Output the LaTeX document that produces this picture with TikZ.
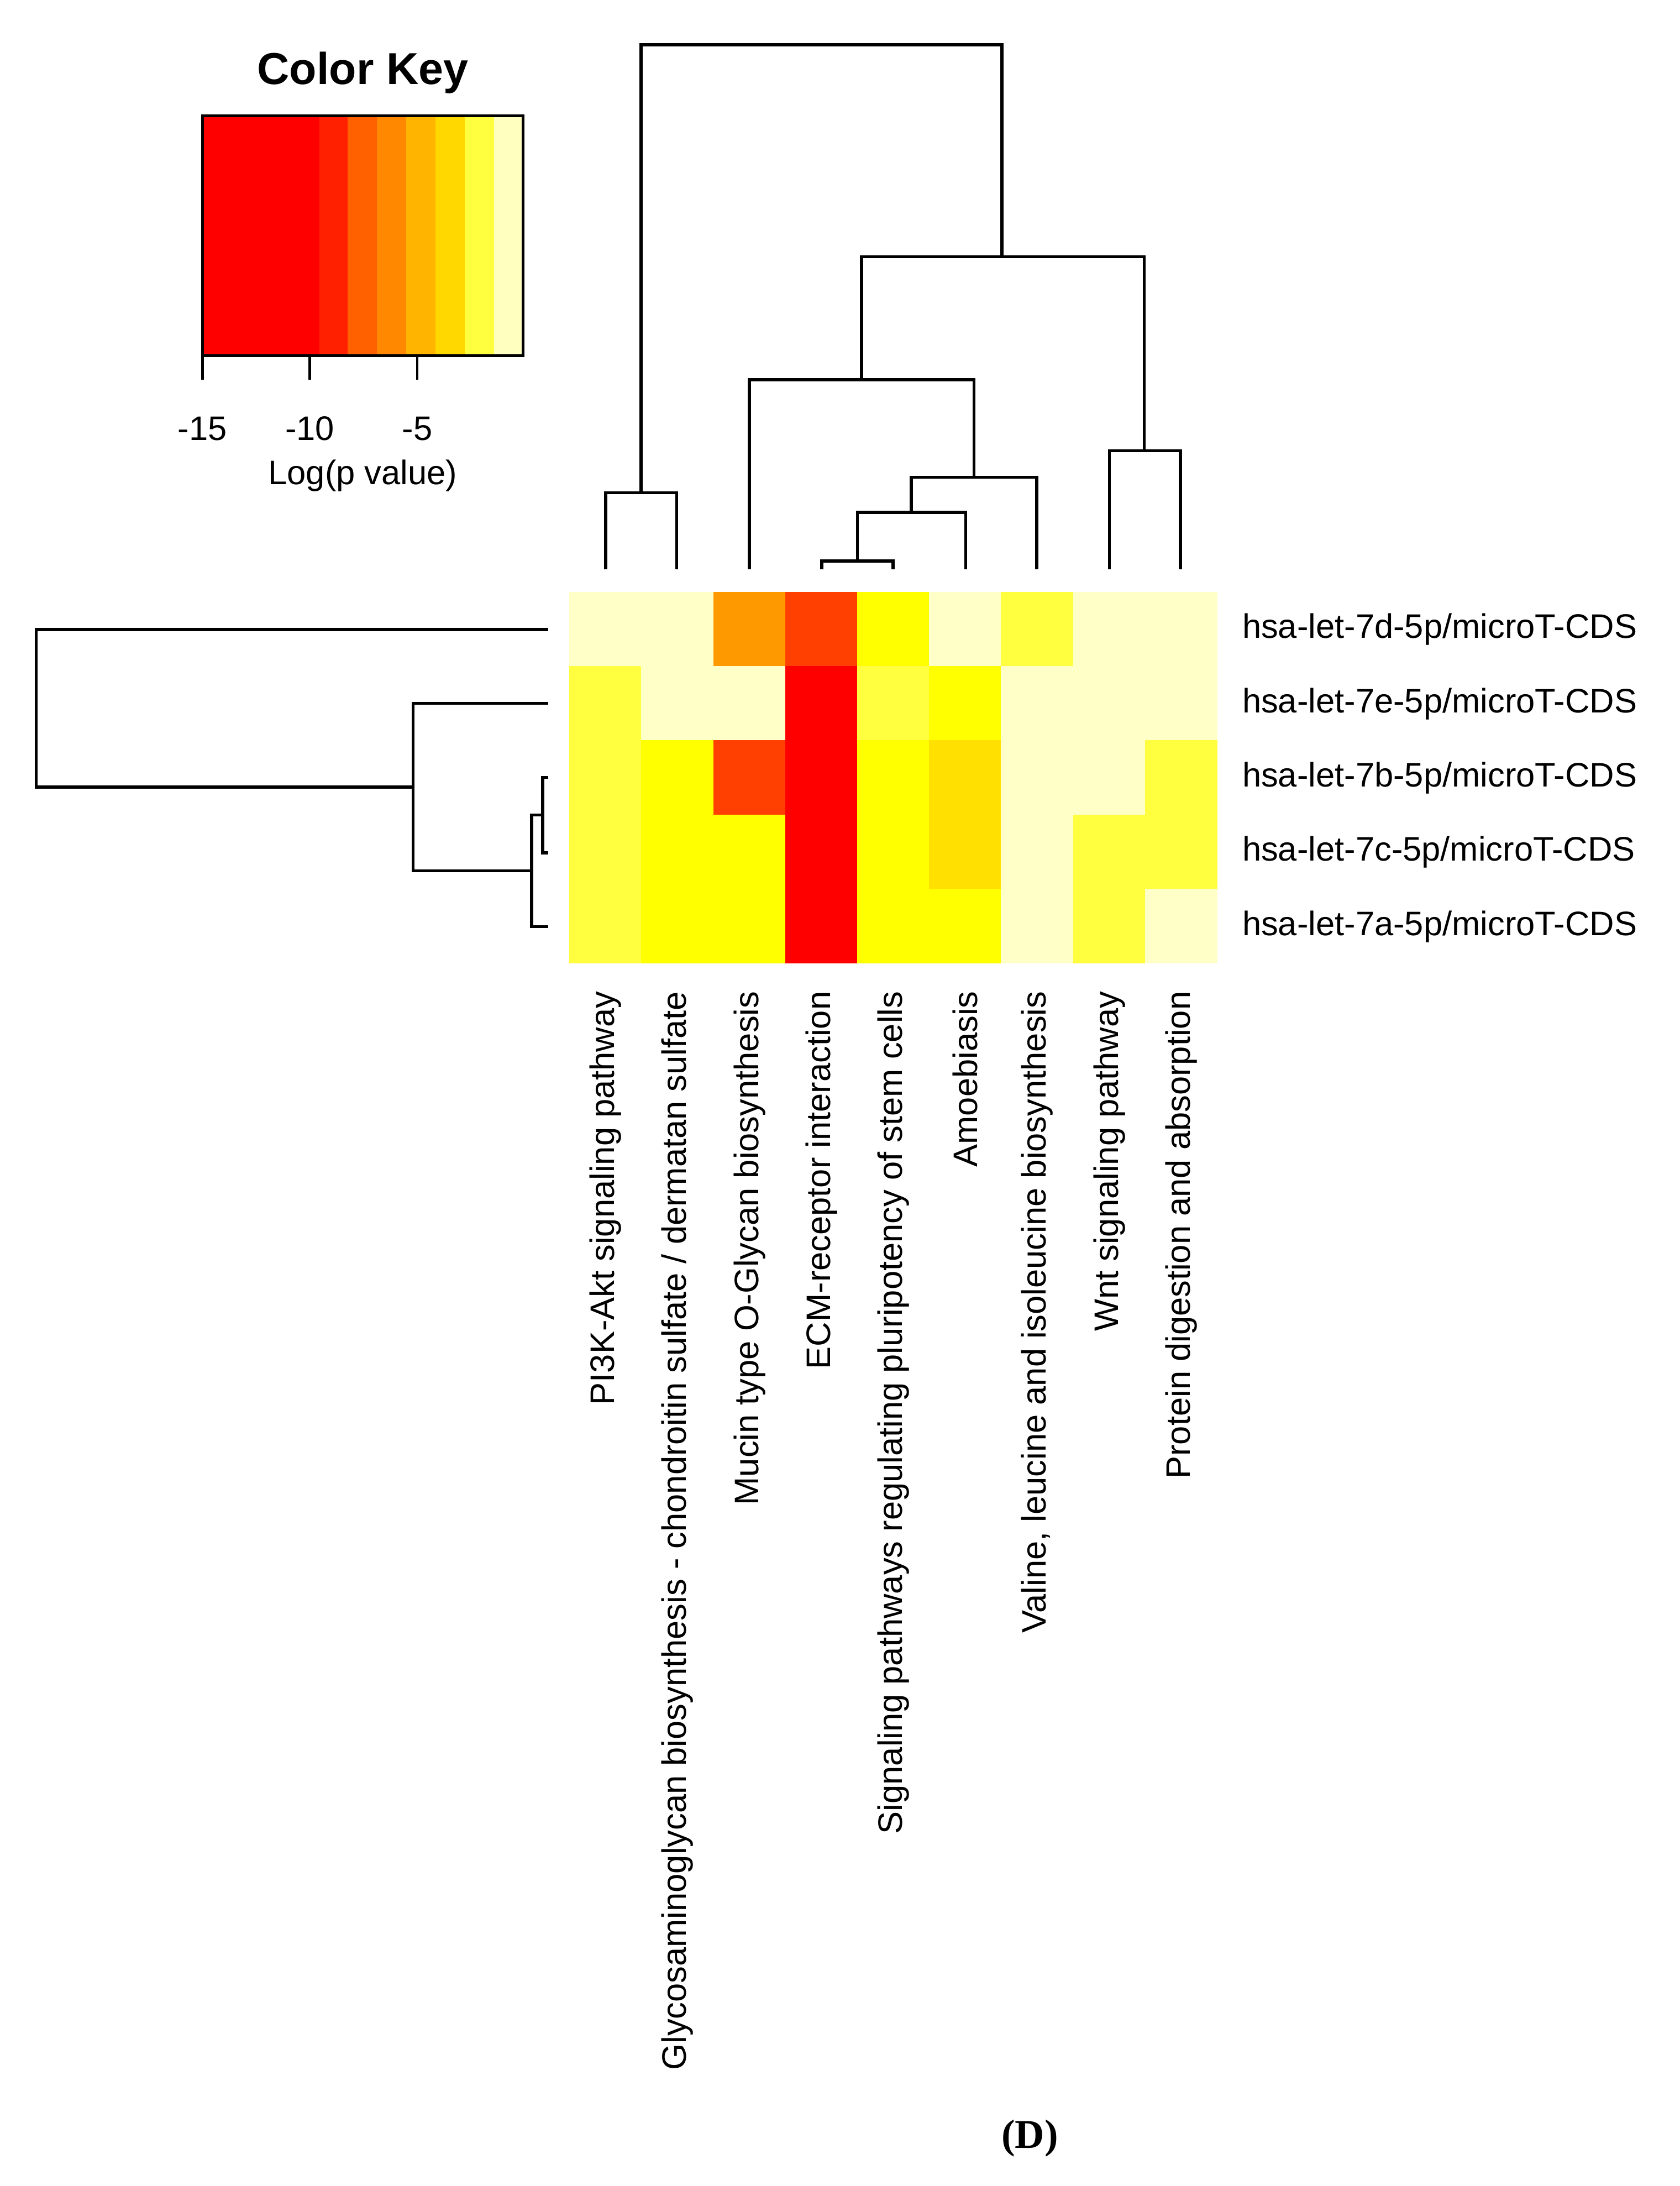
\documentclass[tikz,border=0pt]{standalone}
\usepackage{fontspec}
\setmainfont{Liberation Sans}
\newfontfamily\serifD{Liberation Serif}
\definecolor{LY}{HTML}{FFFFC8}
\definecolor{Y1}{HTML}{FFFF40}
\definecolor{Y0}{HTML}{FFFF00}
\definecolor{G0}{HTML}{FFE000}
\definecolor{O1}{HTML}{FF9900}
\definecolor{R1}{HTML}{FF4000}
\definecolor{R0}{HTML}{FF0000}
\definecolor{K1}{HTML}{FF2000}
\definecolor{K2}{HTML}{FF6000}
\definecolor{K3}{HTML}{FF8800}
\definecolor{K4}{HTML}{FFB400}
\definecolor{K5}{HTML}{FFD800}
\definecolor{K6}{HTML}{FFFF40}
\definecolor{K7}{HTML}{FFFFC0}
\tikzset{lbl/.style={font=\fontsize{17.5}{19}\selectfont,inner sep=0pt},
 den/.style={line width=1.6pt}}
\begin{document}
\begin{tikzpicture}[x=0.02525cm,y=-0.02525cm]
\useasboundingbox (0,0) rectangle (1203.6,1566.3);
% heatmap
\def\cw{51.56}\def\rh{53.2}
\foreach \r/\row in {0/{LY,LY,O1,R1,Y0,LY,Y1,LY,LY},1/{Y1,LY,LY,R0,Y1,Y0,LY,LY,LY},2/{Y1,Y0,R1,R0,Y0,G0,LY,LY,Y1},3/{Y1,Y0,Y0,R0,Y0,G0,LY,Y1,Y1},4/{Y1,Y0,Y0,R0,Y0,Y0,LY,Y1,LY}}{
 \foreach \c [count=\i from 0] in \row {
  \fill[\c] (408+\i*\cw,424+\r*\rh) rectangle (408+\i*\cw+\cw+0.3,424+\r*\rh+\rh+0.3);
 }}
% row labels
\foreach \t [count=\i from 0] in {hsa-let-7d-5p/microT-CDS,hsa-let-7e-5p/microT-CDS,hsa-let-7b-5p/microT-CDS,hsa-let-7c-5p/microT-CDS,hsa-let-7a-5p/microT-CDS}
 \node[lbl,anchor=west] (r\i) at (890,451+\i*\rh) {\t};
% column labels
\foreach \t [count=\i from 0] in {PI3K-Akt signaling pathway,Glycosaminoglycan biosynthesis - chondroitin sulfate / dermatan sulfate,Mucin type O-Glycan biosynthesis,ECM-receptor interaction,Signaling pathways regulating pluripotency of stem cells,Amoebiasis,{Valine, leucine and isoleucine biosynthesis},Wnt signaling pathway,Protein digestion and absorption}
 \node[lbl,anchor=east,rotate=90] (c\i) at (434+\i*\cw,710) {\t};
% column dendrogram
\draw[den] (434,408) |- (485,353) -- (485,408);
\draw[den] (589,408) |- (640,402) -- (640,408);
\draw[den] (614.5,402) |- (692,367) -- (692,408);
\draw[den] (653,367) |- (743,342) -- (743,408);
\draw[den] (537,408) |- (698,272) -- (698,342);
\draw[den] (795,408) |- (846,323) -- (846,408);
\draw[den] (617.5,272) |- (820,184) -- (820,323);
\draw[den] (459.5,353) |- (718,32) -- (718,184);
% row dendrogram
\draw[den] (393,557) -| (389,611) -- (393,611);
\draw[den] (389,584) -| (381,664) -- (393,664);
\draw[den] (393,504) -| (296,624) -- (381,624);
\draw[den] (393,451) -| (26,564) -- (296,564);
% color key
\foreach \a/\b/\c in {145/229/R0,229/249/K1,249/270/K2,270/291/K3,291/312/K4,312/333/K5,333/354/K6,354/375/K7}
 \fill[\c] (\a,83) rectangle (\b+0.3,255);
\draw[line width=1.4pt] (145,83) rectangle (375,255);
\draw[line width=1.4pt] (145,255) -- (145,272) (222,255) -- (222,272) (299,255) -- (299,272);
\node[lbl] (t1) at (145,307) {-15};
\node[lbl] (t2) at (222,307) {-10};
\node[lbl] (t3) at (299,307) {-5};
\node[lbl] (kl) at (260,341) {Log(p value)};
\node[lbl,font=\fontsize{23}{25}\selectfont\bfseries] (kt) at (260,52) {Color Key};
\node[inner sep=0pt,font=\serifD\fontsize{21}{23}\selectfont\bfseries] (D) at (738,1532) {(D)};
\end{tikzpicture}
\end{document}
